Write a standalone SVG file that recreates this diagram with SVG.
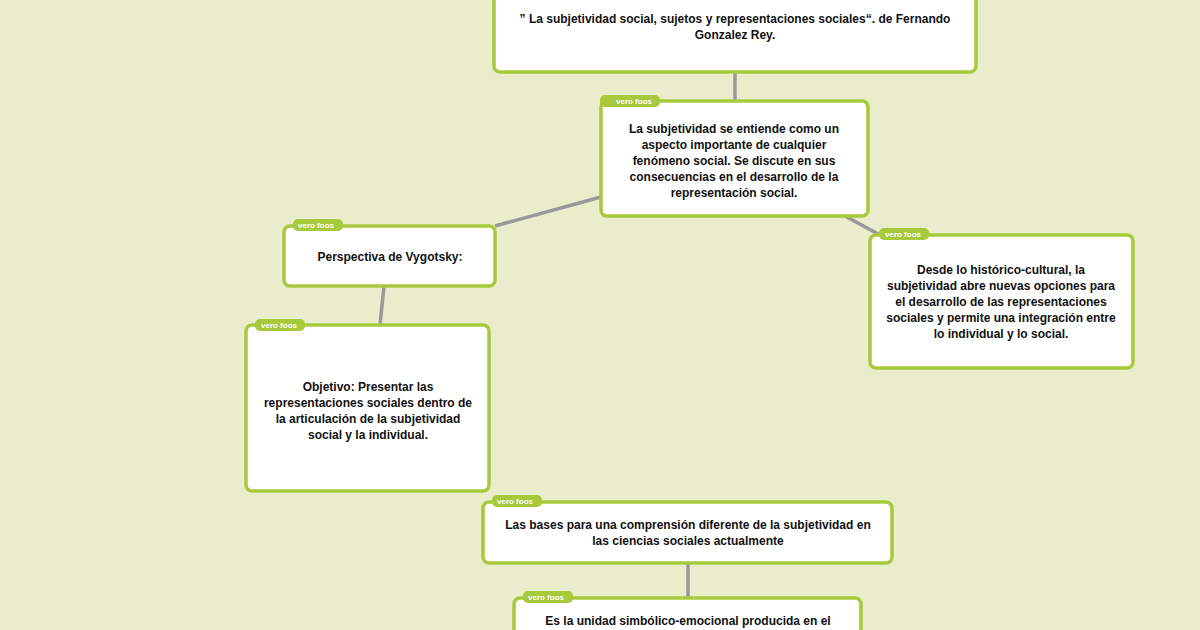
<svg xmlns="http://www.w3.org/2000/svg" width="1200" height="630" viewBox="0 0 1200 630">
<style>
.n{fill:#fff;stroke:#a9c93c;stroke-width:3.5}
.tg{fill:#a9c93c}
.tt{font-family:"Liberation Sans",sans-serif;font-size:8px;font-weight:bold;fill:#fff}
.t{font-family:"Liberation Sans",sans-serif;font-size:12px;font-weight:bold;fill:#111;text-anchor:middle}
.c{stroke:#999;stroke-width:3.5;fill:none}
</style>
<rect width="1200" height="630" fill="#e9edcb"/>
<g id="connectors">
<line class="c" x1="735" y1="72" x2="735" y2="101"/>
<line class="c" x1="601" y1="197" x2="495" y2="226"/>
<line class="c" x1="845" y1="216" x2="880" y2="235"/>
<line class="c" x1="384" y1="286" x2="380" y2="325"/>
<line class="c" x1="688" y1="563" x2="688" y2="598"/>
</g>
<g id="n1"><rect class="n" x="494" y="-10" width="482" height="82" rx="6"/>
<text class="t" x="735" y="23">” La subjetividad social, sujetos y representaciones sociales“. de Fernando</text>
<text class="t" x="735" y="39">Gonzalez Rey.</text></g>
<g id="n2"><rect class="n" x="601" y="101" width="267" height="115" rx="6"/>
<rect class="tg" x="600" y="95" width="60" height="12" rx="5"/><text class="tt" x="616" y="104">vero foos</text>
<text class="t" x="734" y="133">La subjetividad se entiende como un</text>
<text class="t" x="734" y="149">aspecto importante de cualquier</text>
<text class="t" x="734" y="165">fenómeno social. Se discute en sus</text>
<text class="t" x="734" y="181">consecuencias en el desarrollo de la</text>
<text class="t" x="734" y="197">representación social.</text></g>
<g id="n3"><rect class="n" x="284" y="226" width="211" height="60" rx="6"/>
<rect class="tg" x="293" y="219" width="50" height="12" rx="5"/><text class="tt" x="298" y="228">vero foos</text>
<text class="t" x="390" y="261">Perspectiva de Vygotsky:</text></g>
<g id="n4"><rect class="n" x="870" y="235" width="263" height="133" rx="6"/>
<rect class="tg" x="879" y="228" width="50" height="12" rx="5"/><text class="tt" x="885" y="237">vero foos</text>
<text class="t" x="1001" y="274">Desde lo histórico-cultural, la</text>
<text class="t" x="1001" y="290">subjetividad abre nuevas opciones para</text>
<text class="t" x="1001" y="306">el desarrollo de las representaciones</text>
<text class="t" x="1001" y="322">sociales y permite una integración entre</text>
<text class="t" x="1001" y="338">lo individual y lo social.</text></g>
<g id="n5"><rect class="n" x="246" y="325" width="243" height="166" rx="6"/>
<rect class="tg" x="255" y="319" width="50" height="12" rx="5"/><text class="tt" x="261" y="328">vero foos</text>
<text class="t" x="368" y="391">Objetivo: Presentar las</text>
<text class="t" x="368" y="407">representaciones sociales dentro de</text>
<text class="t" x="368" y="423">la articulación de la subjetividad</text>
<text class="t" x="368" y="439">social y la individual.</text></g>
<g id="n6"><rect class="n" x="483" y="502" width="409" height="61" rx="6"/>
<rect class="tg" x="492" y="495" width="50" height="12" rx="5"/><text class="tt" x="497" y="504">vero foos</text>
<text class="t" x="688" y="529">Las bases para una comprensión diferente de la subjetividad en</text>
<text class="t" x="688" y="545">las ciencias sociales actualmente</text></g>
<g id="n7"><rect class="n" x="514" y="598" width="347" height="50" rx="6"/>
<rect class="tg" x="523" y="591" width="50" height="12" rx="5"/><text class="tt" x="528" y="600">vero foos</text>
<text class="t" x="688" y="625">Es la unidad simbólico-emocional producida en el</text></g>
</svg>
